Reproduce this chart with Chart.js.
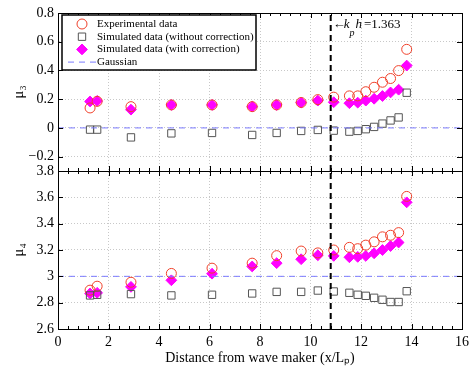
<!DOCTYPE html>
<html>
<head>
<meta charset="utf-8">
<script src="https://cdn.jsdelivr.net/npm/chart.js@4.4.0/dist/chart.umd.min.js"></script>
<style>
  body { margin: 0; background: #fff; }
</style>
</head>
<body>
<canvas id="myChart" width="474" height="371"></canvas>
<script>
// x positions (x / Lp) of the gauges
const distance = [1.27, 1.55, 2.89, 4.49, 6.10, 7.69, 8.66, 9.63, 10.29, 10.92, 11.54, 11.87, 12.19, 12.52, 12.85, 13.17, 13.49, 13.81];

// skewness mu3
const mu3Experimental = [0.139, 0.185, 0.148, 0.160, 0.160, 0.148, 0.160, 0.177, 0.197, 0.214, 0.223, 0.223, 0.252, 0.283, 0.318, 0.344, 0.399, 0.547];
const mu3NoCorrection = [-0.012, -0.012, -0.066, -0.038, -0.035, -0.049, -0.035, -0.021, -0.014, -0.019, -0.026, -0.021, -0.009, 0.007, 0.030, 0.052, 0.073, 0.245];
const mu3Correction = [0.184, 0.188, 0.127, 0.160, 0.160, 0.148, 0.160, 0.176, 0.190, 0.179, 0.172, 0.176, 0.190, 0.203, 0.222, 0.247, 0.266, 0.434];

// kurtosis mu4
const mu4Experimental = [2.895, 2.925, 2.955, 3.022, 3.062, 3.100, 3.157, 3.192, 3.178, 3.200, 3.220, 3.210, 3.237, 3.262, 3.300, 3.312, 3.332, 3.607];
const mu4NoCorrection = [2.855, 2.860, 2.865, 2.855, 2.860, 2.870, 2.882, 2.882, 2.892, 2.885, 2.875, 2.860, 2.852, 2.837, 2.822, 2.805, 2.805, 2.887];
const mu4Correction = [2.870, 2.875, 2.920, 2.970, 3.020, 3.075, 3.100, 3.130, 3.160, 3.155, 3.145, 3.148, 3.155, 3.175, 3.200, 3.230, 3.257, 3.562];

const gaussianMu3 = 0;
const gaussianMu4 = 3;
const breakDistance = 10.8;   // kp h = 1.363

const xTicks = [0, 2, 4, 6, 8, 10, 12, 14, 16];
const mu3Ticks = [-0.2, 0, 0.2, 0.4, 0.6, 0.8];
const mu4Ticks = [2.6, 2.8, 3, 3.2, 3.4, 3.6, 3.8];
const xRange = [0, 16];
const mu3Range = [-0.3, 0.8];
const mu4Range = [2.6, 3.8];

const serif = '"Liberation Serif", "Times New Roman", serif';
const RED = '#f0402a';
const GREY = '#555555';
const MAGENTA = '#ff00ff';
const BLUE = '#7b7bff';

const pts = (ys) => distance.map((x, i) => ({ x: x, y: ys[i] }));
const fmt = (v) => {
  const s = String(parseFloat(v.toFixed(2)));
  return v < 0 ? '\u2212' + s.slice(1) : s;
};

const circle = { pointStyle: 'circle', pointRadius: 5, borderColor: RED, backgroundColor: 'rgba(0,0,0,0)', borderWidth: 1, showLine: false };
const square = { pointStyle: 'rect', pointRadius: 5.2, borderColor: GREY, backgroundColor: 'rgba(0,0,0,0)', borderWidth: 1, showLine: false };
const diamond = { pointStyle: 'rectRot', pointRadius: 5.4, borderColor: MAGENTA, backgroundColor: MAGENTA, borderWidth: 1, showLine: false };
const gauss = { showLine: true, pointRadius: 0, borderColor: BLUE, borderWidth: 1, borderDash: [6, 5] };
const vline = { showLine: true, pointRadius: 0, borderColor: '#000', borderWidth: 2, borderDash: [6, 4] };

const datasets = [
  Object.assign({ label: 'Gaussian', yAxisID: 'y3', data: [{ x: xRange[0], y: gaussianMu3 }, { x: xRange[1], y: gaussianMu3 }] }, gauss),
  Object.assign({ label: 'Gaussian', yAxisID: 'y4', data: [{ x: xRange[0], y: gaussianMu4 }, { x: xRange[1], y: gaussianMu4 }] }, gauss),
  Object.assign({ label: 'break', yAxisID: 'y3', data: [{ x: breakDistance, y: mu3Range[0] }, { x: breakDistance, y: mu3Range[1] }] }, vline),
  Object.assign({ label: 'break', yAxisID: 'y4', data: [{ x: breakDistance, y: mu4Range[0] }, { x: breakDistance, y: mu4Range[1] }] }, vline),
  Object.assign({ label: 'Simulated data (without correction)', yAxisID: 'y3', data: pts(mu3NoCorrection) }, square),
  Object.assign({ label: 'Simulated data (without correction)', yAxisID: 'y4', data: pts(mu4NoCorrection) }, square),
  Object.assign({ label: 'Experimental data', yAxisID: 'y3', data: pts(mu3Experimental) }, circle),
  Object.assign({ label: 'Experimental data', yAxisID: 'y4', data: pts(mu4Experimental) }, circle),
  Object.assign({ label: 'Simulated data (with correction)', yAxisID: 'y3', data: pts(mu3Correction) }, diamond),
  Object.assign({ label: 'Simulated data (with correction)', yAxisID: 'y4', data: pts(mu4Correction) }, diamond)
];

const gridOpts = { color: '#c8c8c8', lineWidth: 1, drawTicks: false };
const borderOpts = { display: true, color: '#000', width: 1, dash: [1, 2] };

function yScale(range, ticks, title) {
  return {
    type: 'linear',
    position: 'left',
    stack: 'mu',
    stackWeight: 1,
    min: range[0],
    max: range[1],
    afterBuildTicks: (s) => { s.ticks = ticks.map(v => ({ value: v })); },
    afterFit: (s) => { s.width = 58; },
    grid: gridOpts,
    border: borderOpts,
    ticks: { color: '#000', padding: 4, autoSkip: false, font: { family: serif, size: 14 }, callback: fmt },
    title: { display: true, text: title, color: '#000', padding: { top: 10, bottom: 2 }, font: { family: serif, size: 15 } }
  };
}

// box, inward ticks, legend and kp h label
const framePlugin = {
  id: 'frame',
  afterDraw(chart) {
    const ctx = chart.ctx;
    const xs = chart.scales.x;
    const panels = [chart.scales.y3, chart.scales.y4];
    ctx.save();
    ctx.strokeStyle = '#000';
    ctx.lineWidth = 1;
    ctx.setLineDash([]);
    panels.forEach(p => {
      ctx.strokeRect(xs.left + 0.5, p.top + 0.5, xs.right - xs.left, p.bottom - p.top);
      ctx.beginPath();
      p.ticks.forEach(t => {
        const y = Math.round(p.getPixelForValue(t.value)) + 0.5;
        ctx.moveTo(xs.left, y); ctx.lineTo(xs.left + 5, y);
        ctx.moveTo(xs.right, y); ctx.lineTo(xs.right - 5, y);
      });
      for (let v = xRange[0]; v <= xRange[1] + 1e-9; v += 0.4) {
        const major = Math.abs(v / 2 - Math.round(v / 2)) < 1e-6;
        const len = major ? 5 : 3;
        const x = Math.round(xs.getPixelForValue(v)) + 0.5;
        ctx.moveTo(x, p.top); ctx.lineTo(x, p.top + len);
        ctx.moveTo(x, p.bottom); ctx.lineTo(x, p.bottom - len);
      }
      ctx.stroke();
    });

    // legend inside the top panel
    const top = chart.scales.y3;
    const bx = xs.left + 4, by = top.top + 2, bw = 194, bh = 55;
    ctx.fillStyle = '#fff';
    ctx.fillRect(bx, by, bw, bh);
    ctx.lineWidth = 1.5;
    ctx.strokeStyle = '#000';
    ctx.strokeRect(bx, by, bw, bh);
    const rows = [
      { text: 'Experimental data', ds: circle },
      { text: 'Simulated data (without correction)', ds: square },
      { text: 'Simulated data (with correction)', ds: diamond },
      { text: 'Gaussian', ds: gauss }
    ];
    ctx.font = '11px ' + serif;
    ctx.textBaseline = 'middle';
    rows.forEach((r, i) => {
      const cy = by + 9 + i * 12.7;
      const cx = bx + 20;
      ctx.lineWidth = 1;
      ctx.strokeStyle = r.ds.borderColor;
      if (r.ds === gauss) {
        ctx.setLineDash(gauss.borderDash);
        ctx.beginPath(); ctx.moveTo(bx + 6, cy); ctx.lineTo(bx + 34, cy); ctx.stroke();
        ctx.setLineDash([]);
      } else {
        ctx.fillStyle = r.ds.backgroundColor;
        Chart.helpers.drawPoint(ctx, {
          pointStyle: r.ds.pointStyle, radius: r.ds.pointRadius, rotation: 0, borderWidth: 1
        }, cx, cy);
      }
      ctx.fillStyle = '#000';
      ctx.fillText(r.text, bx + 35, cy);
    });

    // kp h annotation
    const ax = xs.getPixelForValue(breakDistance) + 2;
    const ay = top.top + 12;
    ctx.fillStyle = '#000';
    ctx.textBaseline = 'middle';
    ctx.font = '13px ' + serif;
    ctx.fillText('\u2190', ax, ay);
    let cx = ax + ctx.measureText('\u2190').width - 2;
    ctx.font = 'italic 13px ' + serif;
    ctx.fillText('k', cx, ay);
    cx += ctx.measureText('k').width;
    ctx.font = 'italic 10px ' + serif;
    ctx.fillText('p', cx, ay + 8);
    cx += ctx.measureText('p').width + 1;
    ctx.font = 'italic 13px ' + serif;
    ctx.fillText('h', cx, ay);
    cx += ctx.measureText('h').width + 2;
    ctx.font = '13px ' + serif;
    ctx.fillText('=1.363', cx, ay);
    ctx.restore();
  }
};

const ctx = document.getElementById('myChart').getContext('2d');

const chart = new Chart(ctx, {
  type: 'scatter',
  data: { datasets: datasets },
  options: {
    responsive: false,
    animation: false,
    layout: { padding: { top: 13, right: 11, left: 0, bottom: 0 } },
    plugins: { legend: { display: false }, tooltip: { enabled: false } },
    scales: {
      x: {
        type: 'linear',
        min: xRange[0],
        max: xRange[1],
        afterBuildTicks: (s) => { s.ticks = xTicks.map(v => ({ value: v })); },
        afterFit: (s) => { s.height = 42; },
        grid: gridOpts,
        border: borderOpts,
        ticks: { color: '#000', padding: 5, autoSkip: false, maxRotation: 0, font: { family: serif, size: 14 } },
        title: { display: true, text: 'Distance from wave maker (x/L\u209A)', color: '#000', padding: { top: 0 }, font: { family: serif, size: 14 } }
      },
      y4: yScale(mu4Range, mu4Ticks, '\u03BC\u2084'),
      y3: yScale(mu3Range, mu3Ticks, '\u03BC\u2083')
    }
  },
  plugins: [framePlugin]
});
</script>
</body>
</html>
